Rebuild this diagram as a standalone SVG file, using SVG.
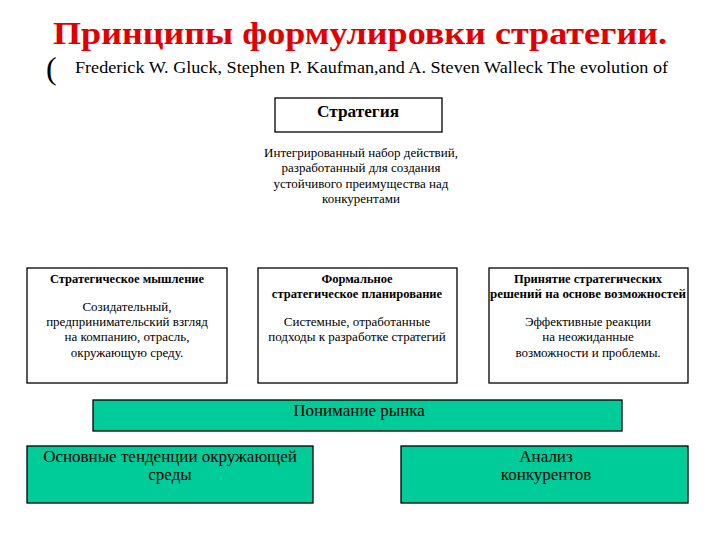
<svg xmlns="http://www.w3.org/2000/svg" width="720" height="540" viewBox="0 0 720 540">
<style>
text{font-family:"Liberation Serif","DejaVu Serif",serif;fill:#000;text-anchor:middle}
.title{fill:#e00000;font-weight:bold;font-size:32px}
.sub{font-family:"Liberation Serif",serif;font-size:16px;text-anchor:start}
.box{fill:#fff;stroke:#000;stroke-width:1.3}
.g{fill:#00cc99;stroke:#000;stroke-width:1.3}
.h{font-size:12.5px;font-weight:bold}
.b{font-size:13px}
.gt{font-size:17px}
</style>
<rect width="720" height="540" fill="#fff"/>
<g id="title">
<text class="title" x="360" y="44" textLength="614" lengthAdjust="spacingAndGlyphs">Принципы формулировки стратегии.</text>
<text class="sub" x="46" y="79" style="font-size:32px">(</text>
<text class="sub" x="75" y="73" textLength="593" lengthAdjust="spacingAndGlyphs">Frederick W. Gluck, Stephen P. Kaufman,and A. Steven Walleck The evolution of</text>
</g>
<g id="strategy">
<rect class="box" x="275" y="98" width="167" height="34"/>
<text x="358" y="117" style="font-size:16px;font-weight:bold" textLength="82" lengthAdjust="spacingAndGlyphs">Стратегия</text>
<text class="b" x="361" y="157">Интегрированный набор действий,</text>
<text class="b" x="361" y="172">разработанный для создания</text>
<text class="b" x="361" y="188">устойчивого преимущества над</text>
<text class="b" x="361" y="203">конкурентами</text>
</g>
<g id="thinking">
<rect class="box" x="27" y="268" width="200" height="115"/>
<text class="h" x="127" y="283">Стратегическое мышление</text>
<text class="b" x="127" y="311">Созидательный,</text>
<text class="b" x="127" y="326">предпринимательский взгляд</text>
<text class="b" x="127" y="341">на компанию, отрасль,</text>
<text class="b" x="127" y="357">окружающую среду.</text>
</g>
<g id="planning">
<rect class="box" x="258" y="268" width="199" height="115"/>
<text class="h" x="357" y="283">Формальное</text>
<text class="h" x="357" y="298">стратегическое планирование</text>
<text class="b" x="357" y="326">Системные, отработанные</text>
<text class="b" x="357" y="341">подходы к разработке стратегий</text>
</g>
<g id="decisions">
<rect class="box" x="489" y="268" width="199" height="115"/>
<text class="h" x="588" y="283">Принятие стратегических</text>
<text class="h" x="588" y="298" textLength="196" lengthAdjust="spacingAndGlyphs">решений на основе возможностей</text>
<text class="b" x="588" y="326">Эффективные реакции</text>
<text class="b" x="588" y="341">на неожиданные</text>
<text class="b" x="588" y="357">возможности и проблемы.</text>
</g>
<g id="market">
<rect class="g" x="93" y="400" width="529" height="31"/>
<text class="gt" x="359" y="416">Понимание рынка</text>
</g>
<g id="trends">
<rect class="g" x="27" y="446" width="286" height="57"/>
<text class="gt" x="170" y="462">Основные тенденции окружающей</text>
<text class="gt" x="170" y="480">среды</text>
</g>
<g id="competitors">
<rect class="g" x="401" y="446" width="287" height="57"/>
<text class="gt" x="546" y="462">Анализ</text>
<text class="gt" x="546" y="480">конкурентов</text>
</g>
<g id="connectors"></g>
</svg>
